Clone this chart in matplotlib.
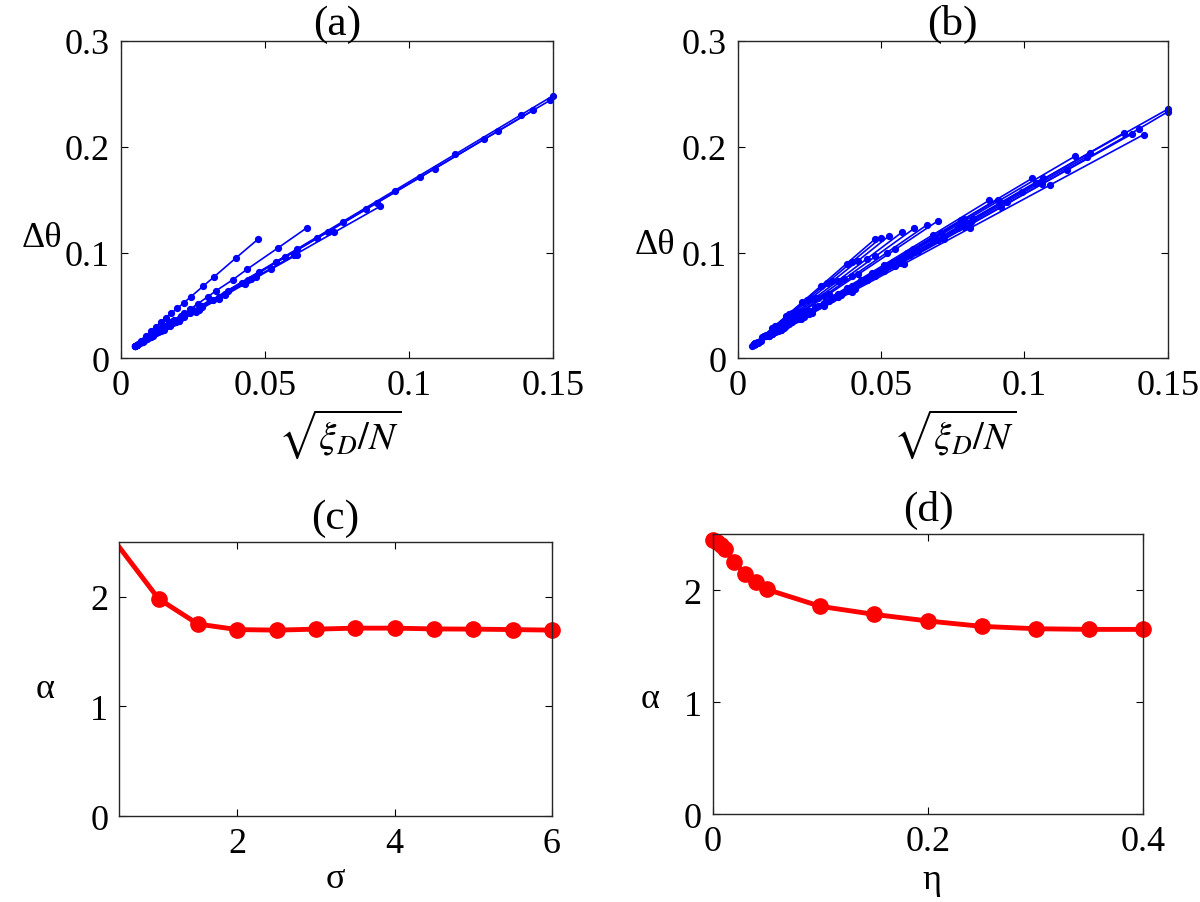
import matplotlib
matplotlib.use('Agg')
import matplotlib.pyplot as plt

plt.rcParams['font.family'] = ['Liberation Serif', 'DejaVu Serif']
plt.rcParams['mathtext.fontset'] = 'stix'
plt.rcParams['font.size'] = 26

# ---- panel (a): delta theta vs sqrt(xi_D/N), one list per curve ----
a_x = [
    [0.0055, 0.0070, 0.0088, 0.0105, 0.0122, 0.0138, 0.0155, 0.0174, 0.0196, 0.0219, 0.0243, 0.0285, 0.0322, 0.0398, 0.0475],
    [0.0055, 0.0072, 0.0092, 0.0112, 0.0135, 0.0160, 0.0185, 0.0207, 0.0240, 0.0266, 0.0302, 0.0331, 0.0389, 0.0438, 0.0544, 0.0645],
    [0.005, 0.007, 0.0095, 0.013, 0.018, 0.024, 0.032, 0.042, 0.054, 0.068, 0.085, 0.104, 0.126, 0.149],
    [0.0055, 0.0078, 0.011, 0.015, 0.021, 0.028, 0.037, 0.048, 0.061, 0.077, 0.095, 0.116, 0.139, 0.150],
    [0.005, 0.0072, 0.010, 0.0138, 0.019, 0.0255, 0.034, 0.044, 0.057, 0.072, 0.089, 0.109, 0.131, 0.143],
    [0.005, 0.0075, 0.0105, 0.0145, 0.020, 0.027, 0.036, 0.047, 0.060, 0.074, 0.090],
    [0.0055, 0.008, 0.011, 0.015, 0.020, 0.026, 0.034, 0.043, 0.052, 0.061],
    [0.0055, 0.0075, 0.010, 0.013, 0.017, 0.022, 0.028, 0.036, 0.045],
    [0.005, 0.007, 0.009, 0.012, 0.016, 0.020, 0.025, 0.031],
    [0.005, 0.0065, 0.0085, 0.011, 0.014, 0.018, 0.022],
    [0.005, 0.006, 0.0075, 0.0095, 0.012, 0.0145, 0.017],
]
a_y = [
    [0.0125, 0.0165, 0.0210, 0.0255, 0.0298, 0.0341, 0.0385, 0.0426, 0.0473, 0.0526, 0.0583, 0.0681, 0.0767, 0.0946, 0.1124],
    [0.0122, 0.0155, 0.0192, 0.0228, 0.0270, 0.0314, 0.0358, 0.0397, 0.0464, 0.0514, 0.0583, 0.0640, 0.0744, 0.0842, 0.1041, 0.1233],
    [0.0121, 0.0153, 0.0193, 0.0249, 0.0330, 0.0426, 0.0555, 0.0716, 0.0909, 0.1135, 0.1409, 0.1714, 0.2069, 0.2439],
    [0.0128, 0.0166, 0.0218, 0.0283, 0.0380, 0.0494, 0.0641, 0.0819, 0.1031, 0.1292, 0.1586, 0.1928, 0.2303, 0.2482],
    [0.0118, 0.0154, 0.0199, 0.0259, 0.0342, 0.0447, 0.0584, 0.0745, 0.0955, 0.1197, 0.1471, 0.1794, 0.2149, 0.2343],
    [0.0120, 0.0159, 0.0205, 0.0267, 0.0353, 0.0461, 0.0601, 0.0771, 0.0973, 0.1190, 0.1437],
    [0.0125, 0.0163, 0.0209, 0.0271, 0.0348, 0.0440, 0.0563, 0.0702, 0.0840, 0.0978],
    [0.0126, 0.0158, 0.0198, 0.0246, 0.0309, 0.0389, 0.0484, 0.0610, 0.0753],
    [0.0120, 0.0153, 0.0187, 0.0237, 0.0303, 0.0370, 0.0452, 0.0551],
    [0.0120, 0.0147, 0.0183, 0.0228, 0.0282, 0.0354, 0.0426],
    [0.0120, 0.0139, 0.0167, 0.0205, 0.0252, 0.0299, 0.0346],
]

# ---- panel (b) ----
b_x = [
    [0.0055, 0.0085, 0.012, 0.017, 0.0225, 0.029, 0.038, 0.048],
    [0.0055, 0.009, 0.013, 0.018, 0.024, 0.031, 0.040, 0.050],
    [0.0055, 0.009, 0.0135, 0.019, 0.0255, 0.033, 0.042, 0.0527],
    [0.006, 0.0095, 0.014, 0.020, 0.027, 0.035, 0.045, 0.0572],
    [0.006, 0.010, 0.015, 0.021, 0.028, 0.037, 0.048, 0.0616],
    [0.006, 0.010, 0.015, 0.022, 0.030, 0.040, 0.052, 0.0659],
    [0.006, 0.0105, 0.016, 0.023, 0.032, 0.042, 0.055, 0.0699],
    [0.006, 0.011, 0.017, 0.025, 0.035, 0.047, 0.061, 0.0779],
    [0.006, 0.011, 0.018, 0.026, 0.036, 0.048, 0.063, 0.0812],
    [0.006, 0.011, 0.018, 0.027, 0.038, 0.051, 0.068, 0.0878],
    [0.006, 0.012, 0.019, 0.028, 0.040, 0.054, 0.071, 0.0907],
    [0.006, 0.012, 0.020, 0.030, 0.043, 0.059, 0.079, 0.1026],
    [0.0065, 0.013, 0.021, 0.032, 0.045, 0.062, 0.082, 0.1064],
    [0.0065, 0.013, 0.022, 0.034, 0.049, 0.068, 0.091, 0.1178],
    [0.0065, 0.014, 0.023, 0.035, 0.051, 0.070, 0.094, 0.1217],
    [0.007, 0.014, 0.024, 0.038, 0.055, 0.077, 0.104, 0.1349],
    [0.007, 0.015, 0.025, 0.039, 0.057, 0.079, 0.106, 0.1374],
    [0.007, 0.015, 0.026, 0.040, 0.058, 0.081, 0.109, 0.1416],
    [0.0055, 0.008, 0.012, 0.017, 0.024, 0.033, 0.045, 0.060, 0.078, 0.099, 0.123, 0.150],
    [0.005, 0.0075, 0.011, 0.016, 0.022, 0.030, 0.041, 0.055, 0.072, 0.092, 0.115, 0.140, 0.150],
]
b_y = [
    [0.0132, 0.0202, 0.0285, 0.0402, 0.0531, 0.0684, 0.0896, 0.1130],
    [0.0131, 0.0211, 0.0302, 0.0415, 0.0551, 0.0710, 0.0915, 0.1140],
    [0.0131, 0.0207, 0.0304, 0.0424, 0.0565, 0.0728, 0.0923, 0.1155],
    [0.0141, 0.0212, 0.0305, 0.0428, 0.0571, 0.0735, 0.0940, 0.1190],
    [0.0140, 0.0218, 0.0316, 0.0434, 0.0571, 0.0747, 0.0963, 0.1229],
    [0.0139, 0.0214, 0.0307, 0.0438, 0.0588, 0.0775, 0.0999, 0.1259],
    [0.0138, 0.0220, 0.0320, 0.0448, 0.0611, 0.0793, 0.1030, 0.1301],
    [0.0136, 0.0218, 0.0316, 0.0446, 0.0609, 0.0805, 0.1033, 0.1308],
    [0.0135, 0.0212, 0.0320, 0.0443, 0.0597, 0.0782, 0.1013, 0.1293],
    [0.0137, 0.0220, 0.0336, 0.0485, 0.0668, 0.0884, 0.1166, 0.1495],
    [0.0136, 0.0233, 0.0345, 0.0490, 0.0684, 0.0909, 0.1183, 0.1500],
    [0.0136, 0.0233, 0.0363, 0.0525, 0.0736, 0.0995, 0.1319, 0.1700],
    [0.0143, 0.0245, 0.0370, 0.0541, 0.0744, 0.1009, 0.1321, 0.1702],
    [0.0144, 0.0247, 0.0390, 0.0581, 0.0820, 0.1122, 0.1487, 0.1913],
    [0.0143, 0.0257, 0.0395, 0.0579, 0.0824, 0.1115, 0.1482, 0.1906],
    [0.0151, 0.0260, 0.0415, 0.0632, 0.0895, 0.1236, 0.1655, 0.2133],
    [0.0150, 0.0271, 0.0422, 0.0633, 0.0905, 0.1237, 0.1645, 0.2119],
    [0.0149, 0.0266, 0.0427, 0.0631, 0.0894, 0.1230, 0.1639, 0.2115],
    [0.0128, 0.0168, 0.0230, 0.0308, 0.0417, 0.0558, 0.0745, 0.0980, 0.1255, 0.1575, 0.1945, 0.2355],
    [0.0118, 0.0156, 0.0209, 0.0284, 0.0374, 0.0494, 0.0659, 0.0869, 0.1124, 0.1430, 0.1785, 0.2170, 0.2330],
]

# ---- panel (c): alpha vs sigma ----
sigma = [0.5, 1.0, 1.5, 2.0, 2.5, 3.0, 3.5, 4.0, 4.5, 5.0, 5.5, 6.0]
alpha_c = [2.45, 1.98, 1.75, 1.70, 1.695, 1.704, 1.713, 1.713, 1.706, 1.704, 1.70, 1.695]

# ---- panel (d): alpha vs eta ----
eta = [0.0, 0.004, 0.008, 0.011, 0.02, 0.03, 0.04, 0.05, 0.1, 0.15, 0.2, 0.25, 0.3, 0.35, 0.4]
alpha_d = [2.447, 2.427, 2.403, 2.373, 2.254, 2.143, 2.075, 2.009, 1.857, 1.785, 1.726, 1.678, 1.657, 1.651, 1.651]


def style(ax):
    ax.tick_params(direction='in', top=True, right=True, length=5, width=0.8, pad=8)
    for s in ax.spines.values():
        s.set_linewidth(1.0)
        s.set_color('#262626')


fig = plt.figure(figsize=(12, 9.03), dpi=100)

ax_a = fig.add_axes([0.1008, 0.6021, 0.36, 0.3514])
ax_b = fig.add_axes([0.6148, 0.6021, 0.3583, 0.3514])
ax_c = fig.add_axes([0.0994, 0.0949, 0.3606, 0.3041])
ax_d = fig.add_axes([0.5939, 0.0971, 0.3588, 0.3101])

for ax, xs, ys, title in [(ax_a, a_x, a_y, '(a)'), (ax_b, b_x, b_y, '(b)')]:
    for xx, yy in zip(xs, ys):
        ax.plot(xx, yy, '-o', color='blue', lw=1.2, ms=4.2, mec='blue', clip_on=False)
    ax.set_xlim(0, 0.15)
    ax.set_ylim(0, 0.3)
    ax.set_xticks([0, 0.05, 0.1, 0.15])
    ax.set_xticklabels(['0', '0.05', '0.1', '0.15'])
    ax.set_yticks([0, 0.1, 0.2, 0.3])
    ax.set_yticklabels(['0', '0.1', '0.2', '0.3'])
    ax.set_title(title, pad=5)
    ax.set_xlabel(r'$\sqrt{\xi_D/N}$', va='center', fontsize=28)
    ax.set_ylabel('Δθ', rotation=0, va='center', ha='center')
    style(ax)

ax_a.xaxis.set_label_coords(0.507, -0.235)
ax_b.xaxis.set_label_coords(0.505, -0.235)
ax_a.yaxis.set_label_coords(-0.183, 0.382)
ax_b.yaxis.set_label_coords(-0.192, 0.36)

# panel (c)
ax_c.plot(sigma, alpha_c, '-', color='red', lw=3.5)
ax_c.plot(sigma[1:], alpha_c[1:], 'o', color='red', ms=11, clip_on=False)
ax_c.set_xlim(0.5, 6)
ax_c.set_ylim(0, 2.5)
ax_c.set_xticks([2, 4, 6])
ax_c.set_yticks([0, 1, 2])
ax_c.set_title('(c)', pad=10)
ax_c.set_xlabel('σ', va='center')
ax_c.set_ylabel('α', rotation=0, va='center', ha='center')
ax_c.xaxis.set_label_coords(0.5, -0.228)
ax_c.yaxis.set_label_coords(-0.172, 0.464)
style(ax_c)

# panel (d)
ax_d.plot(eta, alpha_d, '-o', color='red', lw=3.5, ms=11, clip_on=False)
ax_d.set_xlim(0, 0.4)
ax_d.set_ylim(0, 2.5)
ax_d.set_xticks([0, 0.2, 0.4])
ax_d.set_xticklabels(['0', '0.2', '0.4'])
ax_d.set_yticks([0, 1, 2])
ax_d.set_title('(d)', pad=10)
ax_d.set_xlabel('η', va='center')
ax_d.set_ylabel('α', rotation=0, va='center', ha='center')
ax_d.xaxis.set_label_coords(0.51, -0.231)
ax_d.yaxis.set_label_coords(-0.146, 0.412)
style(ax_d)

fig.savefig('out.png', dpi=100)
